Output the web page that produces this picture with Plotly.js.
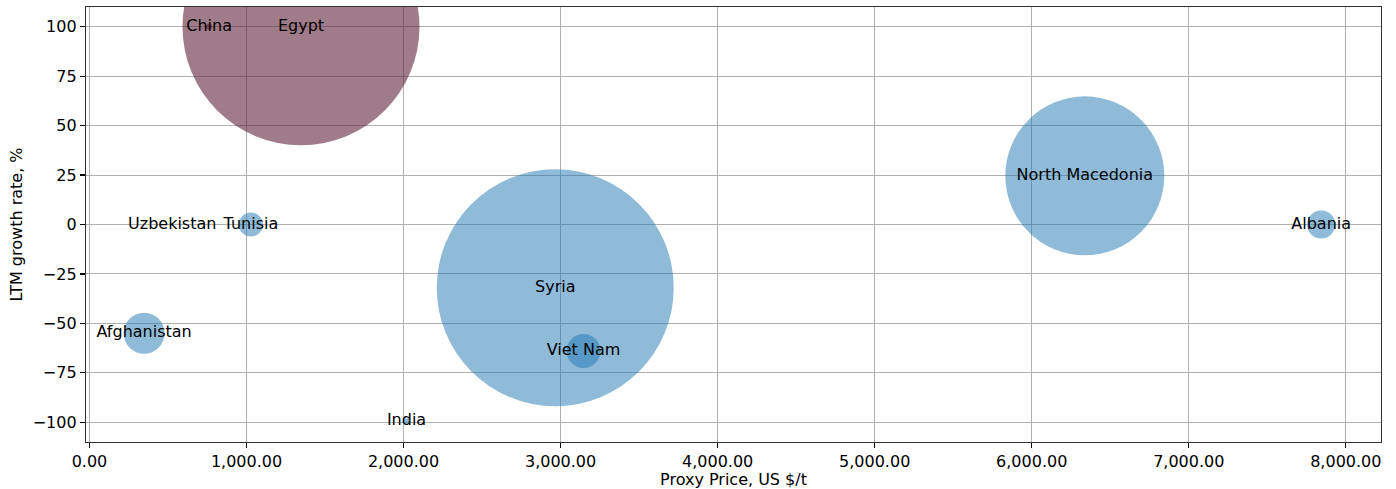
<!DOCTYPE html>
<html>
<head>
<meta charset="utf-8">
<script src="https://cdn.plot.ly/plotly-3.0.1.min.js"></script>
<style>html,body{margin:0;padding:0;background:#fff;}#chart{width:1396px;height:489px;}</style>
</head>
<body>
<div id="chart"></div>
<script>
// Data
var countries = ["Egypt", "China", "Syria", "North Macedonia", "Afghanistan", "Albania", "Tunisia", "Uzbekistan", "India", "Viet Nam"];
var proxyPrice = [1347, 762, 2966, 6338, 348, 7843, 1028, 527, 2019, 3146];
var growthRate = [100, 100, -32, 24.6, -55, 0, 0, 0, -99.5, -64];
// relative bubble size (area-proportional)
var volume = [100, 0.064, 100, 45, 3.0, 1.4, 1.03, 0.016, 0.064, 2.06];
var group = ["up", "up", "down", "down", "down", "down", "down", "down", "down", "down"];

var groupColor = {up: "rgba(97,35,58,0.6)", down: "rgba(31,119,180,0.5)"};
var colors = group.map(function(g){ return groupColor[g]; });
var maxDiameter = 237;

var trace = {
  x: proxyPrice,
  y: growthRate,
  text: countries,
  mode: "markers+text",
  type: "scatter",
  textposition: "middle center",
  textfont: {family: "DejaVu Sans", size: 16, color: "#000"},
  marker: {
    size: volume,
    sizemode: "area",
    sizeref: 2 * Math.max.apply(null, volume) / (maxDiameter * maxDiameter),
    color: colors,
    opacity: 1,
    line: {width: 0}
  },
  hoverinfo: "text"
};

var axisCommon = {
  showline: true, mirror: true, linecolor: "#333", linewidth: 1.2,
  ticks: "outside", ticklen: 5, tickwidth: 1.2, tickcolor: "#000",
  showgrid: true, gridcolor: "#b0b0b0", gridwidth: 1,
  zeroline: false,
  tickfont: {family: "DejaVu Sans", size: 16, color: "#000"},
  automargin: false
};

var layout = {
  width: 1396, height: 489,
  margin: {l: 86, r: 15, t: 7, b: 47},
  paper_bgcolor: "#fff", plot_bgcolor: "#fff",
  showlegend: false,
  xaxis: Object.assign({}, axisCommon, {
    range: [-22, 8224],
    tickvals: [0, 1000, 2000, 3000, 4000, 5000, 6000, 7000, 8000],
    tickformat: ",.2f",
    title: {text: "Proxy Price, US $/t", font: {family: "DejaVu Sans", size: 16, color: "#000"}, standoff: 4}
  }),
  yaxis: Object.assign({}, axisCommon, {
    range: [-110, 110],
    tickvals: [-100, -75, -50, -25, 0, 25, 50, 75, 100],
    title: {text: "LTM growth rate, %", font: {family: "DejaVu Sans", size: 16, color: "#000"}, standoff: 6}
  }),
  font: {family: "DejaVu Sans"}
};

Plotly.newPlot("chart", [trace], layout, {displayModeBar: false, staticPlot: true});
</script>
</body>
</html>
